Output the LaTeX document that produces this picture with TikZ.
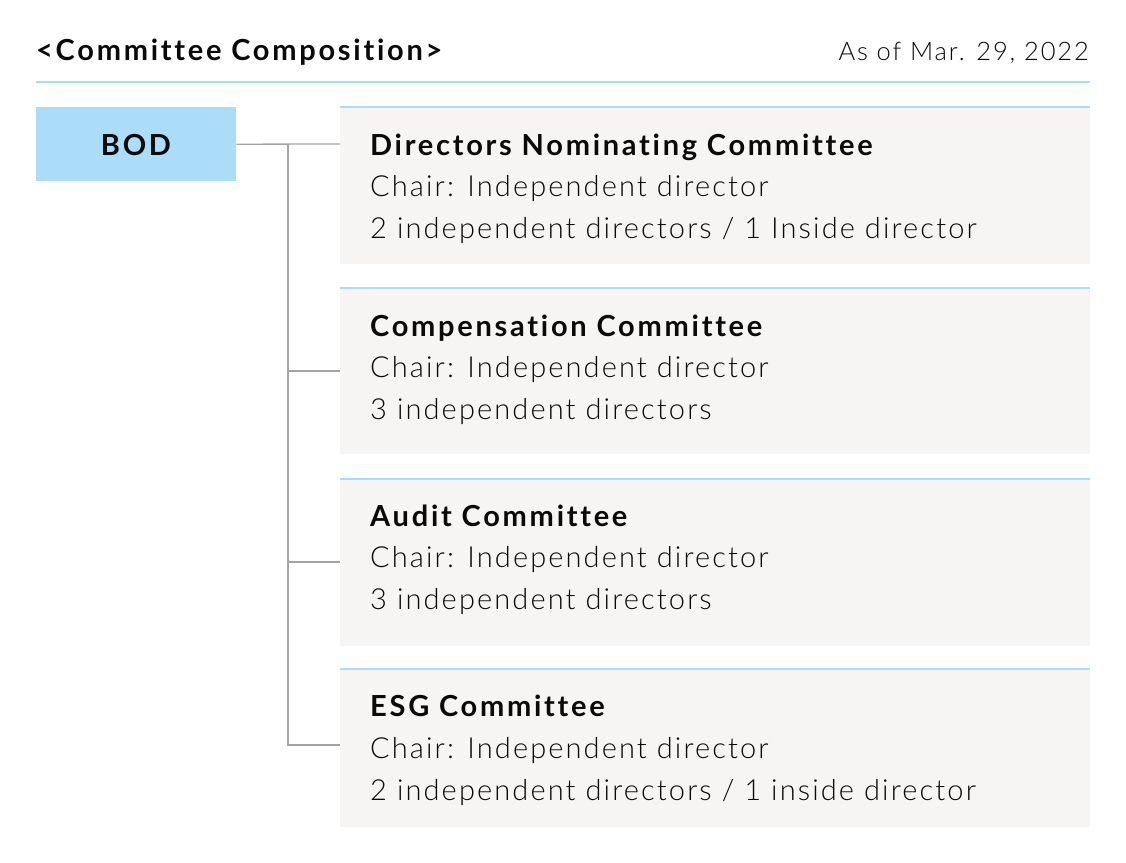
\documentclass[tikz,border=0pt]{standalone}
\usepackage{fontspec}
\setmainfont{Lato}[UprightFont={* Light}, BoldFont={* Bold}, Ligatures=NoCommon, LetterSpace=7.3, BoldFeatures={LetterSpace=9.4}]
\definecolor{lineblue}{HTML}{ABDBF6}
\definecolor{bodblue}{HTML}{ABDCF8}
\definecolor{boxgray}{HTML}{F6F5F3}
\definecolor{conngray}{HTML}{A3A3A3}
\definecolor{txt}{HTML}{0A0A0A}
\tikzset{
  x=1pt, y=-1pt,
  headtext/.style={anchor=base west, inner sep=0pt, font=\fontsize{29}{32}\selectfont\bfseries, text=txt},
  bodytext/.style={anchor=base west, inner sep=0pt, font=\fontsize{29}{32}\selectfont, text=txt},
  topline/.style={draw=lineblue, line width=2pt},
  conn/.style={draw=conngray, line width=1.3pt},
}
\begin{document}
\begin{tikzpicture}
\useasboundingbox[fill=white] (0,0) rectangle (1126,862);
% header
\node[headtext] (title) at (36,60) {<Committee Composition>};
\node[anchor=base east, inner sep=0pt, font=\fontsize{25.5}{28}\selectfont, text=txt] (asof) at (1089,60) {As of Mar. 29, 2022};
\draw[topline] (36,82) -- (1090,82);
% BOD
\node[fill=bodblue, minimum width=200pt, minimum height=74pt, inner sep=0pt, anchor=north west] (bod) at (36,107) {};
\node[anchor=base, inner sep=0pt, font=\fontsize{29}{32}\selectfont\bfseries, text=txt] (bodt) at (136,155) {BOD};
% committee boxes
\foreach \n/\t/\b in {c1/107/264, c2/288/454, c3/479/646, c4/669/827}{
  \fill[boxgray] (340,\t) rectangle (1090,\b);
  \draw[topline] (340,\t) -- (1090,\t);
  \coordinate (\n) at (340,\t);
}
\coordinate (c1in) at (340,144);
\coordinate (c2in) at (340,371);
\coordinate (c3in) at (340,562);
\coordinate (c4in) at (340,745);
\coordinate (spine) at (288,144);
\coordinate (spineend) at (288,745);
\node[headtext] (h1) at (370,155) {Directors Nominating Committee};
\node[bodytext] (a1) at (370,196) {Chair: Independent director};
\node[bodytext] (b1) at (370,238) {2 independent directors / 1 Inside director};
\node[headtext] (h2) at (370,336) {Compensation Committee};
\node[bodytext] (a2) at (370,377) {Chair: Independent director};
\node[bodytext] (b2) at (370,419) {3 independent directors};
\node[headtext] (h3) at (370,526) {Audit Committee};
\node[bodytext] (a3) at (370,567) {Chair: Independent director};
\node[bodytext] (b3) at (370,609) {3 independent directors};
\node[headtext] (h4) at (370,716) {ESG Committee};
\node[bodytext] (a4) at (370,758) {Chair: Independent director};
\node[bodytext] (b4) at (370,800) {2 independent directors / 1 inside director};
% connectors
\draw[conn] (bod.east) -- (c1in);
\draw[conn] (spine) -- (spineend) -- (c4in);
\draw[conn] (spine |- c2in) -- (c2in);
\draw[conn] (spine |- c3in) -- (c3in);
\end{tikzpicture}
\end{document}
